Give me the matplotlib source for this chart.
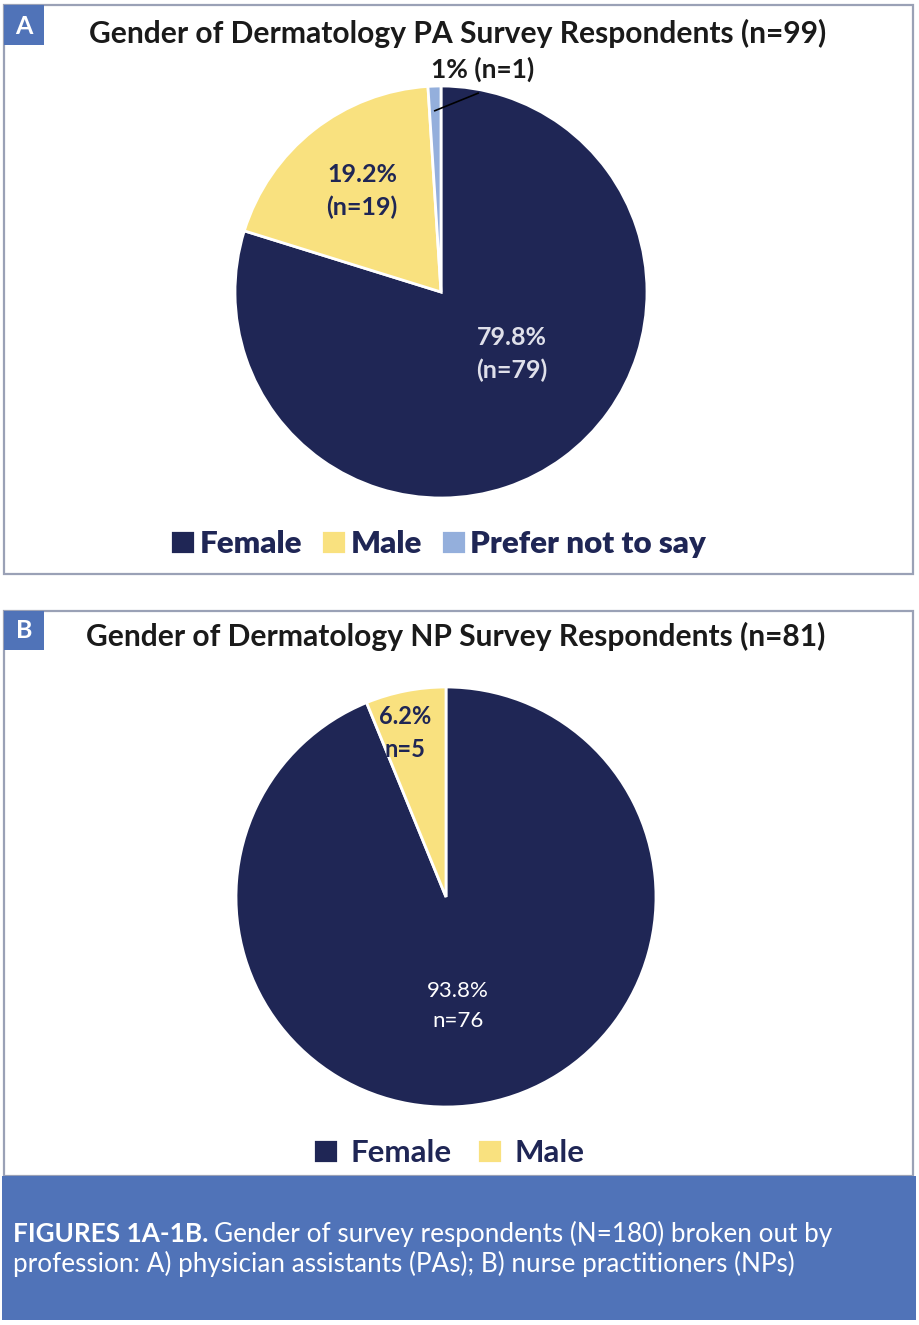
import matplotlib
matplotlib.use("Agg")
import matplotlib.pyplot as plt
from matplotlib.patches import Rectangle

plt.rcParams["font.family"] = ["Lato", "DejaVu Sans"]

# data
pa_labels = ["Female", "Male", "Prefer not to say"]
pa_counts = [79, 19, 1]
pa_pcts = ["79.8%", "19.2%", "1%"]

np_labels = ["Female", "Male"]
np_counts = [76, 5]
np_pcts = ["93.8%", "6.2%"]

NAVY = "#1f2655"
YELLOW = "#f9e17f"
LIGHT = "#94afdc"
BLUE = "#5073b8"
BORDER = "#9aa1b6"

W, H = 920, 1325
fig = plt.figure(figsize=(W / 100, H / 100), dpi=100)
fig.patch.set_facecolor("white")


def fx(x):
    return x / W


def fy(y):
    return 1 - y / H


def box(x0, y0, x1, y1, zorder=-1, **kw):
    fig.patches.append(Rectangle((fx(x0), fy(y1)), fx(x1) - fx(x0), fy(y0) - fy(y1),
                                 transform=fig.transFigure, zorder=zorder, **kw))


def pie_axes(cx, cy, r, counts, colors):
    ax = fig.add_axes([fx(cx - r), fy(cy + r), 2 * r / W, 2 * r / H])
    wedges, _ = ax.pie(counts, colors=colors, startangle=90, counterclock=False,
                       radius=1, wedgeprops=dict(edgecolor="white", linewidth=2))
    # pie() pads the limits to +-1.25, pin them so the disc fills the axes
    ax.set_xlim(-1, 1)
    ax.set_ylim(-1, 1)
    ax.set_aspect("equal")
    ax.axis("off")
    return ax, wedges


# panel frames
box(4, 5, 913, 574, facecolor="white", edgecolor=BORDER, linewidth=1.6)
box(4, 611, 913, 1176, facecolor="white", edgecolor=BORDER, linewidth=1.6)
box(4, 5, 44, 45, zorder=2, facecolor=BLUE, edgecolor="none")
box(4, 611, 44, 650, zorder=2, facecolor=BLUE, edgecolor="none")
fig.text(fx(24), fy(26), "A", color="white", fontsize=18, fontweight="bold", ha="center", va="center")
fig.text(fx(24), fy(631), "B", color="white", fontsize=18, fontweight="bold", ha="center", va="center")

# caption
box(2, 1176, 916, 1320, zorder=2, facecolor=BLUE, edgecolor="none")

# panel A
fig.text(fx(458), fy(33), "Gender of Dermatology PA Survey Respondents (n=99)",
         fontsize=21.6, fontweight="bold", color="#1a1a1a", ha="center", va="center")
axA, wedgesA = pie_axes(441, 292, 206, pa_counts, [NAVY, YELLOW, LIGHT])
axA.text(0.345, -0.30, f"{pa_pcts[0]}\n(n={pa_counts[0]})", ha="center", va="center",
         fontsize=18, fontweight="bold", color="#dfe0ea", linespacing=1.5)
axA.text(-0.383, 0.49, f"{pa_pcts[1]}\n(n={pa_counts[1]})", ha="center", va="center",
         fontsize=18, fontweight="bold", color=NAVY, linespacing=1.5)
axA.plot([-0.03, 0.18], [0.88, 0.965], color="black", linewidth=1.2, clip_on=False)
axA.text(0.20, 1.08, f"{pa_pcts[2]} (n={pa_counts[2]})", ha="center", va="center",
         fontsize=19, fontweight="bold", color="#1a1a1a", clip_on=False)
fig.legend(wedgesA, pa_labels, loc="center", bbox_to_anchor=(fx(438), fy(544)), ncol=3,
           frameon=False, prop=dict(size=22.5, weight="heavy"), labelcolor=NAVY,
           handlelength=0.8, handleheight=0.8, handletextpad=0.15, columnspacing=0.6)

# panel B
fig.text(fx(456), fy(636), "Gender of Dermatology NP Survey Respondents (n=81)",
         fontsize=21.6, fontweight="bold", color="#1a1a1a", ha="center", va="center")
axB, wedgesB = pie_axes(446, 897, 210, np_counts, [NAVY, YELLOW])
axB.text(0.057, -0.52, f"{np_pcts[0]}\nn={np_counts[0]}", ha="center", va="center",
         fontsize=16, color="white", linespacing=1.6)
axB.text(-0.195, 0.78, f"{np_pcts[1]}\nn={np_counts[1]}", ha="center", va="center",
         fontsize=17, fontweight="bold", color=NAVY, linespacing=1.5)
fig.legend(wedgesB, np_labels, loc="center", bbox_to_anchor=(fx(449), fy(1153)), ncol=2,
           frameon=False, prop=dict(size=22.5, weight="bold"), labelcolor=NAVY,
           handlelength=0.8, handleheight=0.8, handletextpad=0.4, columnspacing=0.8)

# caption text: bold lead-in followed by regular text
renderer = fig.canvas.get_renderer()
lead = fig.text(fx(13), fy(1234), "FIGURES 1A-1B.", color="white", fontsize=18.8,
                fontweight="bold", ha="left", va="center", zorder=3)
bb = lead.get_window_extent(renderer)
fig.text(bb.x1 / W + fx(6), fy(1234), "Gender of survey respondents (N=180) broken out by",
         color="white", fontsize=18.8, ha="left", va="center", zorder=3)
fig.text(fx(13), fy(1264), "profession: A) physician assistants (PAs); B) nurse practitioners (NPs)",
         color="white", fontsize=18.8, ha="left", va="center", zorder=3)

fig.savefig("out.png", dpi=100)
